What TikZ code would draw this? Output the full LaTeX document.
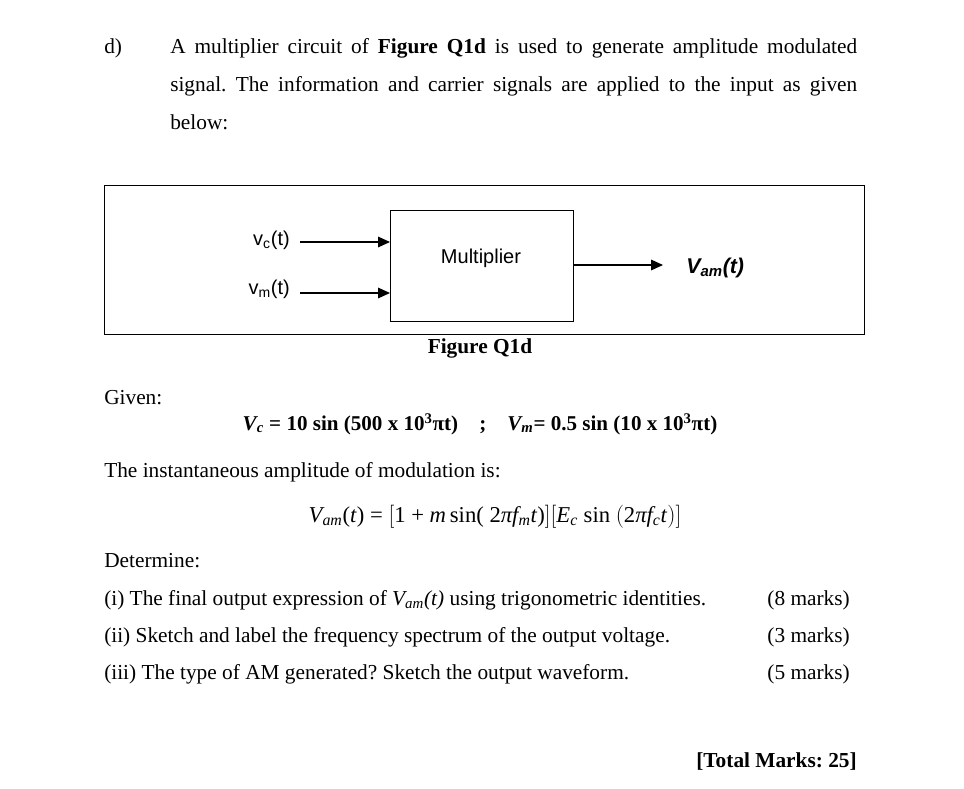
\documentclass[tikz,border=0pt]{standalone}
\usepackage{fontspec}
\setmainfont{Liberation Serif}
\setsansfont{Liberation Sans}
\usetikzlibrary{arrows.meta}
\newcommand{\sbs}[1]{\textsubscript{#1}}
\begin{document}
\frenchspacing
\begin{tikzpicture}[x=0.75pt,y=-0.75pt,
  txt/.style={inner sep=0pt,font=\fontsize{16}{18}\selectfont},
  bx/.style={draw,line width=0.9pt},
  arr/.style={line width=0.9pt,-{Triangle[length=9pt,width=8pt]}},
  sf/.style={inner sep=0pt,font=\sffamily\fontsize{15}{16}\selectfont}]
\useasboundingbox (0,0) rectangle (964,789);
\node[txt,anchor=base west] (d) at (104,53) {d)};
\node[txt,anchor=base west] (l1) at (170,53) {\makebox[515.25pt][s]{A multiplier circuit of \textbf{Figure Q1d} is used to generate amplitude modulated}};
\node[txt,anchor=base west] (l2) at (170,91) {\makebox[515.25pt][s]{signal. The information and carrier signals are applied to the input as given}};
\node[txt,anchor=base west] (l3) at (170,129) {below:};
\node[bx,minimum width=570pt,minimum height=111.75pt,anchor=north west] (outer) at (104,185) {};
\node[bx,minimum width=137.25pt,minimum height=83.25pt,anchor=north west] (mult) at (390,210) {};
\node[sf] (ml) at (481,258) {Multiplier};
\node[sf,anchor=east] (vc) at (290,240) {v\textsubscript{c}(t)};
\node[sf,anchor=east] (vm) at (290,289) {v\textsubscript{m}(t)};
\coordinate (vcin) at (390,242);
\coordinate (vmin) at (390,293);
\draw[arr] (vc.east|-vcin) ++(10,0) -- (vcin);
\draw[arr] (vm.east|-vmin) ++(10,0) -- (vmin);
\node[sf,anchor=west,font=\sffamily\bfseries\itshape\fontsize{16}{16}\selectfont] (vam) at (686,268) {V\textsubscript{am}(t)};
\coordinate (mout) at (573,265);
\draw[arr] (mout) -- (663,265);
\node[txt,font=\bfseries\fontsize{16}{18}\selectfont] (fig) at (480,348) {Figure Q1d};
\node[txt,anchor=base west] (given) at (104,404) {Given:};
\node[txt,anchor=base,font=\bfseries\fontsize{15.8}{18}\selectfont] (eq1) at (480,430) {\textit{V\sbs{c}} = 10 sin (500 x 10\textsuperscript{3}πt)\quad;\quad\textit{V\sbs{m}}= 0.5 sin (10 x 10\textsuperscript{3}πt)};
\node[txt,anchor=base west] (inst) at (104,477) {The instantaneous amplitude of modulation is:};
\node[txt,anchor=base,font=\fontsize{17}{18}\selectfont] (eq2) at (495,522) {\textit{V\sbs{am}}(\textit{t}) = $\Big[$1 + \textit{m}\,sin( 2\textit{πf\sbs{m}t})$\Big]\Big[$\textit{E\sbs{c}} sin $\Big($2\textit{πf\sbs{c}t}$\Big)\Big]$};
\node[txt,anchor=base west] (det) at (104,567) {Determine:};
\node[txt,anchor=base west] (q1) at (104,605) {(i) The final output expression of \textit{V\sbs{am}(t)} using trigonometric identities.};
\node[txt,anchor=base west] (q2) at (104,642) {(ii) Sketch and label the frequency spectrum of the output voltage.};
\node[txt,anchor=base west] (q3) at (104,679) {(iii) The type of AM generated? Sketch the output waveform.};
\node[txt,anchor=base east] (m1) at (850,605) {(8 marks)};
\node[txt,anchor=base east] (m2) at (850,642) {(3 marks)};
\node[txt,anchor=base east] (m3) at (850,679) {(5 marks)};
\node[txt,anchor=base east,font=\bfseries\fontsize{16}{18}\selectfont] (tot) at (857,767) {[Total Marks: 25]};
\end{tikzpicture}
\end{document}
